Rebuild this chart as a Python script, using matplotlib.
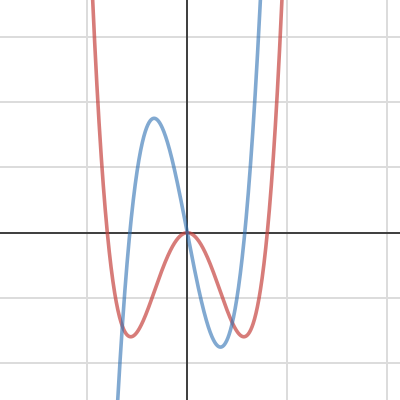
import numpy as np
import matplotlib
matplotlib.use("Agg")
import matplotlib.pyplot as plt

# polynomial coefficients (highest power first)
red_coeffs = [15.6, 0.0, -9.98, 0.0, 0.0]      # c*x^2*(x^2-0.64)
blue_coeffs = [24.0, 0.0, -7.93, 0.0]          # b*(x^3-0.33x)
x_grid = [-1, 0, 1, 2]
y_grid = [-2, -1, 0, 1, 2, 3]

xlim = (-1.873, 2.127)
ylim = (-2.566, 3.569)

fig = plt.figure(figsize=(4, 4), dpi=100)
ax = fig.add_axes([0, 0, 1, 1])
ax.set_xlim(*xlim)
ax.set_ylim(*ylim)
for s in ax.spines.values():
    s.set_visible(False)
ax.set_xticks([])
ax.set_yticks([])

for gx in x_grid:
    ax.axvline(gx, color="#dcdcdc", lw=1.4, zorder=0)
for gy in y_grid:
    ax.axhline(gy, color="#dcdcdc", lw=1.4, zorder=0)
ax.axvline(0, color="#222222", lw=1.2, zorder=1)
ax.axhline(0, color="#222222", lw=1.2, zorder=1)

xs = np.linspace(xlim[0], xlim[1], 2000)
ax.plot(xs, np.polyval(red_coeffs, xs), color="#c74440", alpha=0.7, lw=2.6,
        zorder=2, solid_capstyle="round")
ax.plot(xs, np.polyval(blue_coeffs, xs), color="#2d70b3", alpha=0.6, lw=2.6,
        zorder=3, solid_capstyle="round")

fig.savefig("out.png", dpi=100)
